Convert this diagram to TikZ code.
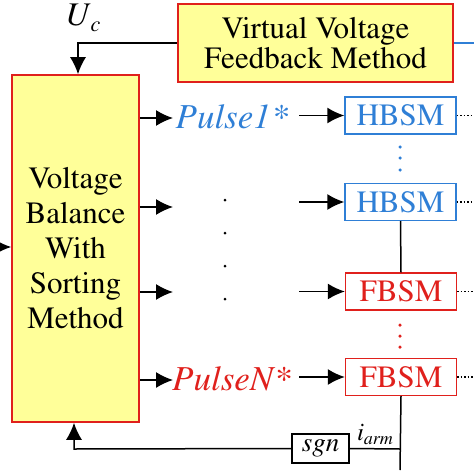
\documentclass[tikz,border=0pt]{standalone}
\usepackage[T1]{fontenc}
\usepackage{times}
\usetikzlibrary{arrows.meta}
\definecolor{paleyellow}{HTML}{FFFF99}
\definecolor{boxred}{HTML}{E0201C}
\definecolor{smblue}{HTML}{2F7FD6}
\newcommand{\bigtxt}{\fontsize{31}{35}\selectfont}
\newcommand{\toptxt}{\fontsize{31}{30}\selectfont}
\newcommand{\pulsetxt}{\fontsize{35}{38}\selectfont\itshape}
\newcommand{\smalltxt}{\fontsize{27}{30}\selectfont\itshape}

\begin{document}
\begin{tikzpicture}[x=1pt, y=-1pt,
  method/.style={draw=boxred, fill=paleyellow, line width=1.6pt, align=center, inner sep=0pt},
  hbsm/.style={draw=smblue, text=smblue, line width=1.4pt, minimum width=111pt, minimum height=37pt, font=\bigtxt, inner sep=0pt},
  fbsm/.style={draw=boxred, text=boxred, line width=1.4pt, minimum width=111pt, minimum height=37pt, font=\bigtxt, inner sep=0pt},
  sig/.style={-{Latex[length=17pt,width=16pt]}, line width=1.5pt},
  wire/.style={line width=1.5pt},
  link/.style={line width=1.4pt, dash pattern=on 1.5pt off 2pt},
  dot/.style={circle, fill, inner sep=0pt, minimum size=3.5pt}]
  \useasboundingbox (0,0) rectangle (474,474);

  % method blocks
  \node[method, minimum width=275pt, minimum height=78pt, font=\toptxt] (vvf) at (315.5,43) {Virtual Voltage\\Feedback Method};
  \node[method, minimum width=127pt, minimum height=347pt, font=\bigtxt] (vbs) at (75.5,248.5) {Voltage\\Balance\\With\\Sorting\\Method};

  % submodules
  \node[hbsm] (hb1) at (400.5,115.5) {HBSM};
  \node[hbsm] (hb2) at (400.5,202) {HBSM};
  \node[fbsm] (fb1) at (401,291.5) {FBSM};
  \node[fbsm] (fb2) at (401,377) {FBSM};
  \node[draw, wire, minimum width=57pt, minimum height=29pt, inner sep=0pt, font=\smalltxt] (sgn) at (320.5,448.5) {sgn};

  % pulse labels
  \node[text=smblue, font=\pulsetxt, inner sep=1pt] (p1) at (232,117) {Pulse1*};
  \node[text=boxred, font=\pulsetxt, inner sep=1pt] (pn) at (231.5,379) {PulseN*};
  \node[font=\fontsize{33}{35}\selectfont] (uc) at (83,18) {\textit{U}\raisebox{-6pt}{\fontsize{22}{23}\selectfont\textit{c}}};
  \node[font=\fontsize{25}{27}\selectfont] (iarm) at (375,435) {\textit{i}\raisebox{-4pt}{\fontsize{18}{19}\selectfont\textit{arm}}};

  \coordinate (in2) at (173,207);
  \coordinate (in3) at (173,292);
  \coordinate (turn) at (400,449);
  \coordinate (bot) at (400,470);
  \coordinate (fbk) at (74,449);
  \coordinate (uref) at (0,247);

  % connectors
  \draw[sig] (vvf.west) -- (78,43) -- (vbs.north -| 78,0);
  \draw[wire, smblue] (vvf.east) -- (474,43);
  \draw[sig] (uref) -- (vbs.west |- uref);
  \draw[sig] (vbs.east |- 0,118) -- (173,118);
  \draw[sig] (vbs.east |- in2) -- (in2);
  \draw[sig] (vbs.east |- in3) -- (in3);
  \draw[sig] (vbs.east |- 0,380) -- (173,380);
  \foreach \n in {hb1,hb2,fb1,fb2}
    \draw[sig] (\n.west -| 299,0) -- (\n.west);
  \draw[wire] (hb2.south) -- (fb1.north);
  \draw[wire] (fb2.south) -- (bot);
  \draw[wire] (turn) -- (sgn.east);
  \draw[sig] (sgn.west) -- (fbk) -- (vbs.south -| fbk);
  \foreach \n in {hb1,hb2,fb1,fb2}
    \draw[link] (\n.east) -- (474,0 |- \n.east);

  % dots
  \foreach \y in {200,233,266,299}
    \node[dot, minimum size=3pt] at (225,\y) {};
  \foreach \y in {147,158,170}
    \node[dot, smblue] at (400,\y) {};
  \foreach \y in {325,336,347}
    \node[dot, boxred] at (400,\y) {};
\end{tikzpicture}
\end{document}
